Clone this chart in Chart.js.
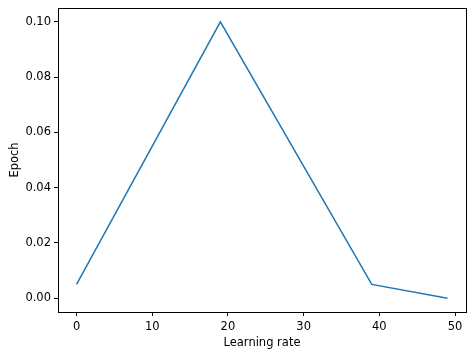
<!DOCTYPE html>
<html>
<head>
<meta charset="utf-8">
<script src="https://cdn.jsdelivr.net/npm/chart.js@4/dist/chart.umd.min.js"></script>
<style>
html,body{margin:0;padding:0;background:#fff;}
#wrap{width:474px;height:355px;position:relative;}
</style>
</head>
<body>
<div id="wrap"><canvas id="c" width="474" height="355"></canvas></div>
<script>
const xValues = [0, 19, 39, 49];
const yValues = [0.005, 0.1, 0.005, 0.0];
const xTicks = [0, 10, 20, 30, 40, 50];
const yTicks = [0.00, 0.02, 0.04, 0.06, 0.08, 0.10];
const xTitle = 'Learning rate';
const yTitle = 'Epoch';

const frame = {
  id: 'frame',
  afterDraw(chart) {
    const {ctx, chartArea: a} = chart;
    ctx.save();
    ctx.strokeStyle = '#000';
    ctx.lineWidth = 1;
    ctx.strokeRect(Math.round(a.left) + 0.5, Math.round(a.top) + 0.5,
      Math.round(a.right - a.left), Math.round(a.bottom - a.top));
    ctx.restore();
  }
};

const font = {family: 'DejaVu Sans', size: 11.5};
new Chart(document.getElementById('c'), {
  type: 'line',
  data: {
    datasets: [{
      data: xValues.map((x, i) => ({x, y: yValues[i]})),
      borderColor: '#1f77b4',
      borderWidth: 1.5,
      pointRadius: 0,
      fill: false,
      tension: 0
    }]
  },
  options: {
    responsive: false,
    animation: false,
    devicePixelRatio: 1,
    layout: {padding: {top: 8, right: 8, left: 8, bottom: 5}},
    plugins: {legend: {display: false}, tooltip: {enabled: false}},
    scales: {
      x: {
        type: 'linear',
        min: -2.45, max: 51.45,
        afterBuildTicks: s => { s.ticks = xTicks.map(v => ({value: v})); },
        afterFit: s => { s.height = 38; s.paddingLeft = 0; s.paddingRight = 0; },
        grid: {drawOnChartArea: false, drawTicks: true, tickLength: 4, color: '#000', tickWidth: 1},
        border: {display: true, color: '#000', width: 1},
        ticks: {color: '#000', font, padding: 4, maxRotation: 0, callback: v => String(v)},
        title: {display: true, text: xTitle, color: '#000', font, padding: {top: 0, bottom: 0}}
      },
      y: {
        type: 'linear',
        min: -0.005, max: 0.105,
        afterBuildTicks: s => { s.ticks = yTicks.map(v => ({value: v})); },
        afterFit: s => { s.width = 50; s.paddingTop = 0; s.paddingBottom = 0; },
        grid: {drawOnChartArea: false, drawTicks: true, tickLength: 4, color: '#000', tickWidth: 1},
        border: {display: true, color: '#000', width: 1},
        ticks: {color: '#000', font, padding: 3, callback: v => Number(v).toFixed(2)},
        title: {display: true, text: yTitle, color: '#000', font, padding: {top: 0, bottom: 4}}
      }
    }
  },
  plugins: [frame]
});
</script>
</body>
</html>
